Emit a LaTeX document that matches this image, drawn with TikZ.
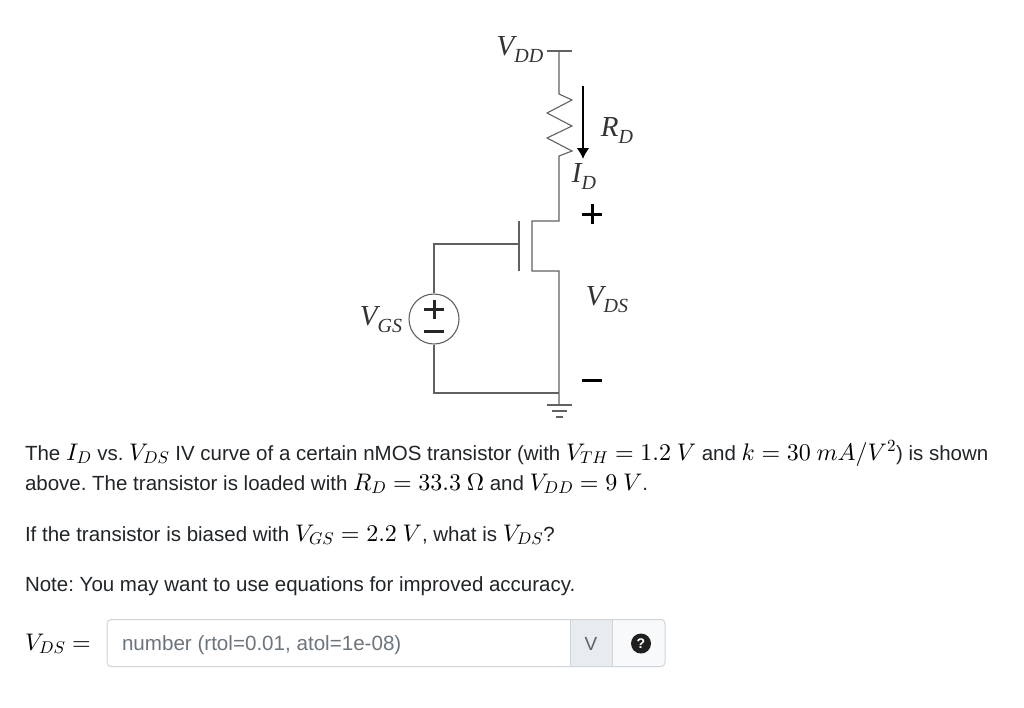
\RequirePackage{fix-cm}
\documentclass[tikz,border=0pt]{standalone}
\usepackage[no-math]{fontspec}
\setmainfont{Liberation Sans}
\newfontfamily\labfont{Liberation Serif}
\usetikzlibrary{arrows.meta}
\DeclareFontShape{OML}{cmm}{m}{it}{<-> cmmi10}{}
\DeclareFontShape{OT1}{cmr}{m}{n}{<-> cmr10}{}
\DeclareFontShape{OMS}{cmsy}{m}{n}{<-> cmsy10}{}
\DeclareMathSizes{20.5}{24}{17}{13}
\definecolor{inputgray}{RGB}{108,117,125}
\definecolor{addonbg}{RGB}{233,236,239}
\definecolor{helpbg}{RGB}{248,249,250}
\definecolor{inputline}{RGB}{206,212,218}
\definecolor{bodytext}{RGB}{33,37,41}
\newcommand{\lab}[2]{{\labfont\itshape #1\raisebox{-0.24em}{\fontsize{20}{22}\selectfont #2}}}
\tikzset{
  wire/.style={draw=black!62,line width=1.1pt,line join=miter},
  symb/.style={inner sep=0pt,outer sep=0pt,text=black!80,font=\fontsize{29}{32}\selectfont},
  sign/.style={draw=black,line width=3pt},
  para/.style={anchor=base west,inner sep=0pt,outer sep=0pt,text=bodytext,font=\fontsize{20.5}{24}\selectfont\frenchspacing},
  addon/.style={inner sep=0pt,outer sep=0pt,text=inputgray!85!black,font=\fontsize{19}{24}\selectfont}
}
\begin{document}
\everymath{\color{black}}
\begin{tikzpicture}[x=1pt,y=-1pt]
\useasboundingbox (0,0) rectangle (1024,707);
\fill[white] (0,0) rectangle (1024,707);
% named points
\coordinate (vddL) at (547,51);
\coordinate (vddR) at (572,51);
\coordinate (vdd) at (559,51);
\coordinate (rtop) at (559,94);
\coordinate (rbot) at (559,156);
\coordinate (drainTop) at (559,221);
\coordinate (chTop) at (532,221);
\coordinate (chBot) at (532,271);
\coordinate (srcBot) at (559,271);
\coordinate (gnd) at (559,405);
\coordinate (gndJ) at (559,393);
\coordinate (gateT) at (519,221);
\coordinate (gateB) at (519,271);
\coordinate (gateM) at (519,244);
\coordinate (gateL) at (434,244);
\coordinate (srcL) at (434,393);
\coordinate (arrT) at (583,86);
\coordinate (arrB) at (583,159);
% source
\node[circle,draw=black!62,line width=1.1pt,minimum size=50pt,inner sep=0pt] (vs) at (434,319) {};
% circuit wires
\draw[wire] (vddL) -- (vddR);
\draw[wire] (vdd) -- (rtop) -- (572,100) -- (547,113) -- (572,126) -- (547,138) -- (572,151) -- (rbot) -- (drainTop) -- (chTop) -- (chBot) -- (srcBot) -- (gnd);
\draw[wire] (gateT) -- (gateB);
\draw[wire] (gateM) -- (gateL) -- (vs.north);
\draw[wire] (vs.south) -- (srcL) -- (gndJ);
\draw[wire] (547,405) -- (572,405);
\draw[wire] (552,411) -- (567,411);
\draw[wire] (556,417) -- (563,417);
\draw[black,line width=2.3pt,-{Latex[length=11pt,width=13pt]}] (arrT) -- (arrB);
% source signs
\draw[line width=3pt,black!85] (424,309) -- (444,309) (434,300) -- (434,319);
\draw[line width=3pt,black!85] (424,331) -- (444,331);
% plus and minus
\draw[sign] (582,214) -- (602,214) (592,204) -- (592,224);
\draw[sign] (582,380) -- (602,380);
% symbols
\node[symb] (lvdd) at (520,50) {\lab{V}{DD}};
\node[symb] (lrd) at (617,131) {\lab{R}{D}};
\node[symb] (lid) at (584,177) {\lab{I}{D}};
\node[symb] (lvds) at (607,300) {\lab{V}{DS}};
\node[symb] (lvgs) at (381,320) {\lab{V}{GS}};
% paragraph
\node[para] (t1) at (25,460) {The $I_D$ vs. $V_{DS}$ IV curve of a certain nMOS transistor (with $V_{TH}=1.2\ V$ and $k=30\ mA/V^2$) is shown};
\node[para] (t2) at (25,490) {above. The transistor is loaded with $R_D=33.3\ \Omega$ and $V_{DD}=9\ V$.};
\node[para] (t3) at (25,541) {If the transistor is biased with $V_{GS}=2.2\ V$, what is $V_{DS}$?};
\node[para] (t4) at (25,591) {Note: You may want to use equations for improved accuracy.};
\node[para] (t5) at (25,650) {$V_{DS}=$};
% input group
\fill[addonbg] (570,620) rectangle (612,666);
\fill[helpbg,rounded corners=4pt] (612,620) rectangle (664.5,666);
\fill[helpbg] (612,620) rectangle (630,666);
\draw[draw=inputline,line width=1pt,rounded corners=4pt] (107,619.5) rectangle (665,666.5);
\draw[inputline,line width=0.8pt] (570,620) -- (570,666) (612,620) -- (612,666);
\node[para,text=inputgray,font=\fontsize{20.6}{24}\selectfont] (ph) at (122,650) {number (rtol=0.01, atol=1e-08)};
\node[addon] (unit) at (591,643.5) {V};
\node[circle,fill=black!88,minimum size=20pt,inner sep=0pt,text=white,font=\fontsize{14}{16}\bfseries\selectfont] (help) at (641,643.5) {?};
\end{tikzpicture}
\end{document}
